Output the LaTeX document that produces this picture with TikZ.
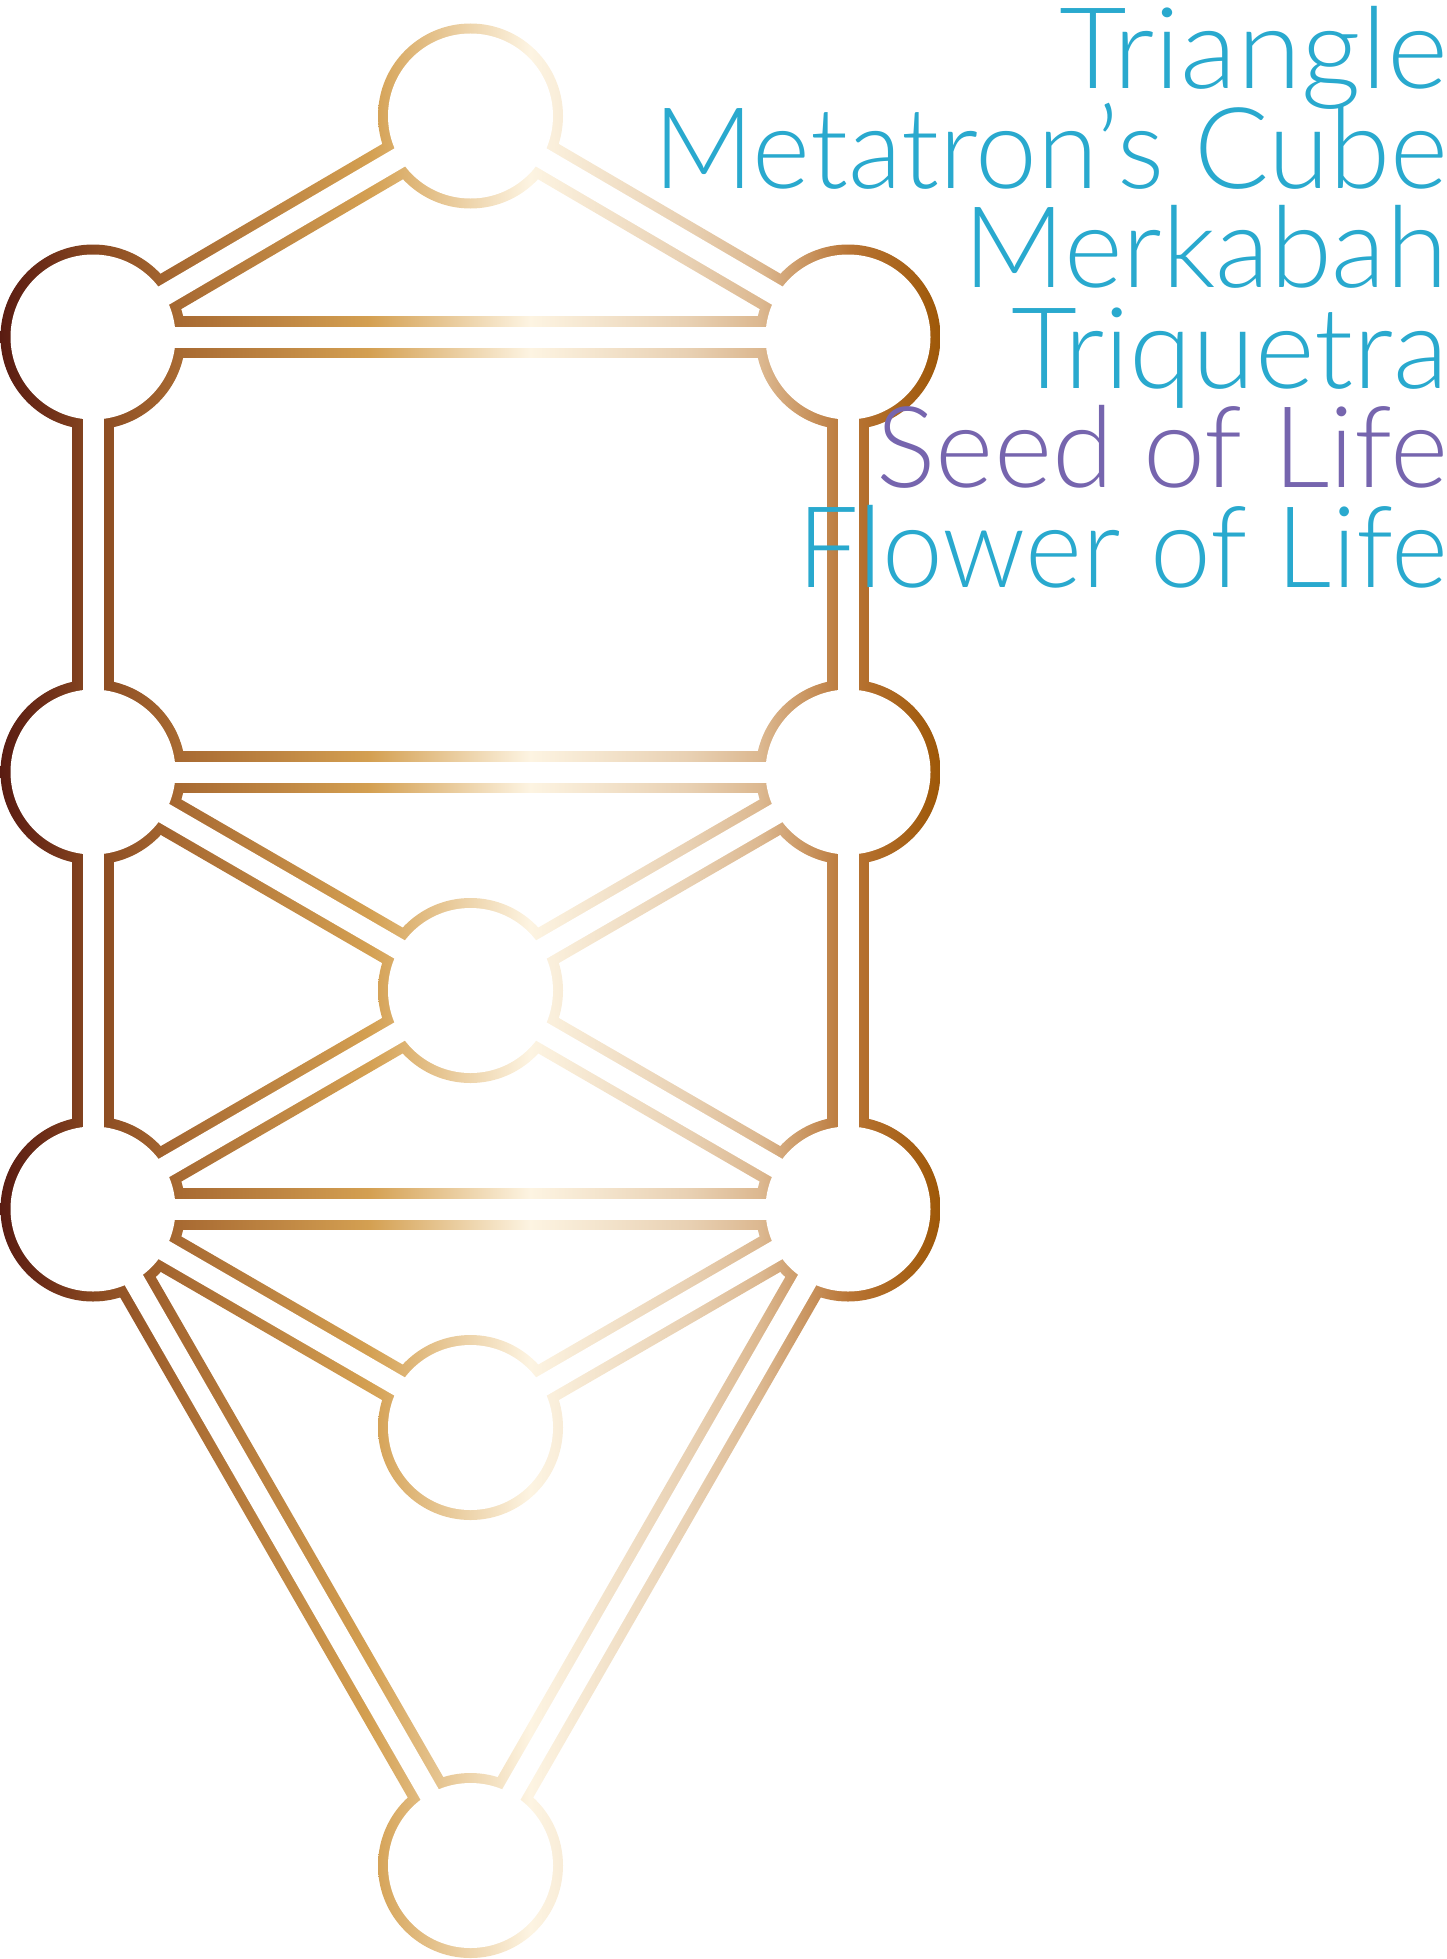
\documentclass[tikz,border=0pt]{standalone}
\usepackage{fontspec}
\usetikzlibrary{calc}
\newfontfamily\labelfont{Lato Light}
\definecolor{labelblue}{HTML}{29A9CE}
\definecolor{labelpurple}{HTML}{7665AE}
\definecolor{gold0}{HTML}{5A1C12}
\definecolor{gold1}{HTML}{6E2E18}
\definecolor{gold2}{HTML}{8C4C22}
\definecolor{gold3}{HTML}{A86A32}
\definecolor{gold4}{HTML}{D4A052}
\definecolor{gold5}{HTML}{FDF4E2}
\definecolor{gold6}{HTML}{E8D0B2}
\definecolor{gold7}{HTML}{DCB890}
\definecolor{gold8}{HTML}{B87434}
\definecolor{gold9}{HTML}{9E5808}
\pgfdeclarehorizontalshading{treegold}{100bp}{color(0bp)=(gold0); color(25bp)=(gold0); color(27.39bp)=(gold1); color(30.32bp)=(gold2); color(34.57bp)=(gold3); color(44.68bp)=(gold4); color(53.19bp)=(gold5); color(61.7bp)=(gold6); color(65.43bp)=(gold7); color(70.21bp)=(gold8); color(75bp)=(gold9); color(100bp)=(gold9)}
\tikzset{
  label text/.style={anchor=base east,inner sep=0pt,text=labelblue,font=\labelfont\fontsize{113}{113}\selectfont},
}
\begin{document}
\begin{tikzpicture}[x=1pt,y=-1pt]
\useasboundingbox (0,0) rectangle (1446,1959);
\coordinate (kether) at (470.5,116);
\coordinate (binah) at (93,337);
\coordinate (chokmah) at (848,337);
\coordinate (geburah) at (93,772);
\coordinate (chesed) at (848,772);
\coordinate (tiphareth) at (470.5,990.5);
\coordinate (hod) at (93,1209);
\coordinate (netzach) at (848,1209);
\coordinate (yesod) at (470.5,1427.5);
\coordinate (malkuth) at (470.5,1865.5);
\def\sephirot{kether,binah,chokmah,geburah,chesed,tiphareth,hod,netzach,yesod,malkuth}
\def\paths{kether/binah,kether/chokmah,binah/chokmah,binah/geburah,chokmah/chesed,geburah/chesed,geburah/tiphareth,chesed/tiphareth,geburah/hod,chesed/netzach,hod/tiphareth,netzach/tiphareth,hod/netzach,hod/yesod,netzach/yesod,hod/malkuth,netzach/malkuth}
\foreach \s in \sephirot {
  \begin{scope}
    \clip (\s) circle[radius=92.5];
    \shade[shading=treegold] (0,0) rectangle (940,1959);
  \end{scope}
}
\foreach \a/\b in \paths {
  \begin{scope}
    \clip ($(\a)!20.5pt!-90:(\b)$) -- ($(\b)!20.5pt!90:(\a)$) -- ($(\b)!20.5pt!-90:(\a)$) -- ($(\a)!20.5pt!90:(\b)$) -- cycle;
    \shade[shading=treegold] (0,0) rectangle (940,1959);
  \end{scope}
}
\foreach \s in \sephirot \fill[white] (\s) circle[radius=82.5];
\foreach \a/\b in \paths \draw[white,line width=21pt] (\a) -- (\b);
\node[label text] (triangle) at (1448,88) {\resizebox{388pt}{\height}{Triangle}};
\node[label text] (metatron) at (1448,188) {\resizebox{794pt}{\height}{Metatron’s Cube}};
\node[label text] (merkabah) at (1448,287) {\resizebox{484pt}{\height}{Merkabah}};
\node[label text] (triquetra) at (1448,388) {\resizebox{436pt}{\height}{Triquetra}};
\node[label text,text=labelpurple] (seed) at (1448,487) {\resizebox{571pt}{\height}{Seed of Life}};
\node[label text] (flower) at (1448,587) {\resizebox{650pt}{\height}{Flower of Life}};
\end{tikzpicture}
\end{document}
